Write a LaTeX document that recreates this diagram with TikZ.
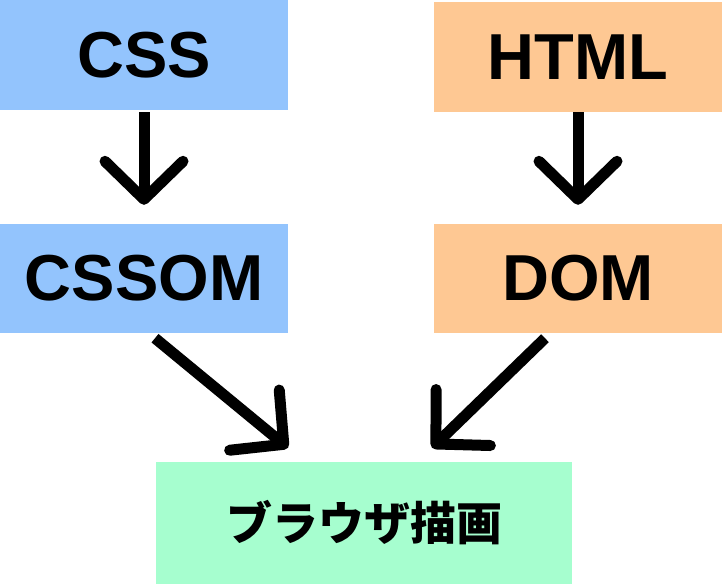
\documentclass[tikz,border=0pt]{standalone}
\usepackage{fontspec}
\setmainfont{Liberation Sans}
\newfontfamily\jpfont{Noto Sans CJK JP}
\usetikzlibrary{arrows.meta}
\definecolor{cssblue}{HTML}{93C4FD}
\definecolor{htmlorange}{HTML}{FEC893}
\definecolor{paintgreen}{HTML}{A6FECF}
\begin{document}
\begin{tikzpicture}[x=1pt,y=-1pt]
\tikzstyle{box} = [inner sep=0, minimum width=288pt, minimum height=110pt, font=\fontsize{65}{70}\selectfont\bfseries]
\tikzstyle{arr} = [-{Straight Barb[length=38pt,width=78pt,line cap=round,line join=round]}, line width=11pt]
\useasboundingbox (0,0) rectangle (722,584);
\node [box, fill=cssblue] (css) at (144,55) {CSS};
\node [box, fill=htmlorange] (html) at (578,57) {HTML};
\node [box, fill=cssblue, minimum height=109pt] (cssom) at (144,278.5) {CSSOM};
\node [box, fill=htmlorange, minimum height=109pt] (dom) at (578,278.5) {DOM};
\node [box, fill=paintgreen, minimum width=416pt, minimum height=122pt, font=\fontsize{46}{50}\selectfont\jpfont\bfseries] (paint) at (364,523) {ブラウザ描画};
\draw [arr] ([yshift=-2pt]css.south) -- ([yshift=19pt]cssom.north);
\draw [arr] (html.south) -- ([yshift=19pt]dom.north);
\draw [arr] ([xshift=11pt,yshift=-5pt]cssom.south) -- ([xshift=-76pt,yshift=14pt]paint.north);
\draw [arr] ([xshift=-33pt,yshift=-5pt]dom.south) -- ([xshift=68pt,yshift=14pt]paint.north);
\end{tikzpicture}
\end{document}
